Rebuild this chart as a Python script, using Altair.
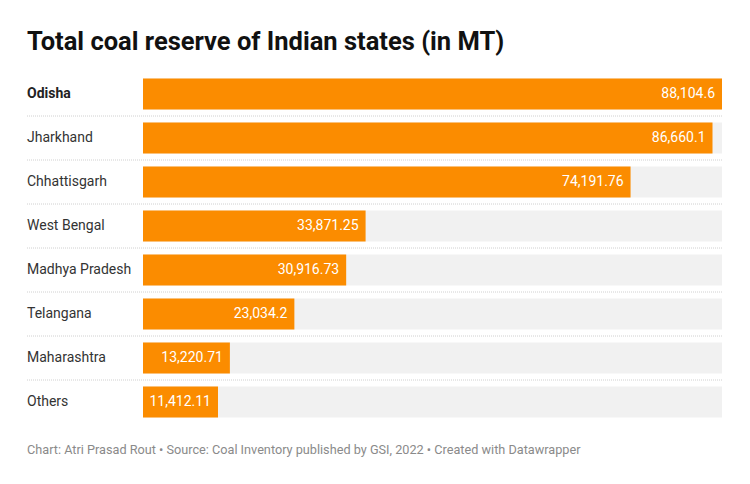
import altair as alt
import pandas as pd

states = ["Odisha", "Jharkhand", "Chhattisgarh", "West Bengal", "Madhya Pradesh",
          "Telangana", "Maharashtra", "Others"]
reserves = [88104.6, 86660.1, 74191.76, 33871.25, 30916.73, 23034.2, 13220.71, 11412.11]

title_text = "Total coal reserve of Indian states (in MT)"
footer_text = "Chart: Atri Prasad Rout \u2022 Source: Coal Inventory published by GSI, 2022 \u2022 Created with Datawrapper"

df = pd.DataFrame({"state": states, "value": reserves})
df["bold"] = [s == "Odisha" for s in states]

W, H = 579, 352
FONT = "Roboto"
ORANGE = "#fb8c00"

y = alt.Y("state:N", sort=states, axis=None,
          scale=alt.Scale(paddingInner=0.3, paddingOuter=0.15))
xs = alt.Scale(domain=[0, max(reserves)], nice=False, zero=True)

base = alt.Chart(df)

track = base.transform_joinaggregate(mx="max(value)").mark_bar(
    color="#f1f1f1", cornerRadius=0
).encode(x=alt.X("mx:Q", scale=xs, axis=None), y=y)

bars = base.mark_bar(color=ORANGE).encode(
    x=alt.X("value:Q", scale=xs, axis=None), y=y
)

vals = base.mark_text(align="right", baseline="middle", dx=-7, color="white",
                      font=FONT, fontSize=14).encode(
    x=alt.X("value:Q", scale=xs, axis=None), y=y,
    text=alt.Text("value:Q", format=",.2~f")
)

seps = base.transform_filter(alt.datum.state != "Others").mark_rule(
    color="#d0d0d0", strokeDash=[1, 1], strokeWidth=1, yOffset=22
).encode(y=y, x=alt.value(-116), x2=alt.value(W))

labels_normal = base.transform_filter("!datum.bold").mark_text(
    align="left", baseline="middle", font=FONT, fontSize=14, color="#333333"
).encode(y=y, x=alt.value(-116), text="state:N")

labels_bold = base.transform_filter("datum.bold").mark_text(
    align="left", baseline="middle", font=FONT, fontSize=14, color="#222222",
    fontWeight="bold"
).encode(y=y, x=alt.value(-116), text="state:N")

footer = alt.Chart(pd.DataFrame({"t": [footer_text]})).mark_text(
    align="left", baseline="middle", font=FONT, fontSize=12.7, color="#8a8a8a"
).encode(text="t:N", x=alt.value(-116), y=alt.value(378))

chart = alt.layer(track, bars, vals, seps, labels_normal, labels_bold, footer).properties(
    width=W, height=H,
    background="white",
    padding={"left": 143, "top": 72, "right": 28, "bottom": 60},
    autosize=alt.AutoSizeParams(type="none"),
    title=alt.TitleParams(title_text, anchor="start", frame="group", dx=-116, dy=28,
                          font=FONT, fontSize=25.5, fontWeight="bold",
                          color="#111111", offset=20, baseline="bottom"),
).configure_view(strokeWidth=0, stroke="transparent")

chart.save("out.html", embed_options={"renderer": "svg", "actions": False})
